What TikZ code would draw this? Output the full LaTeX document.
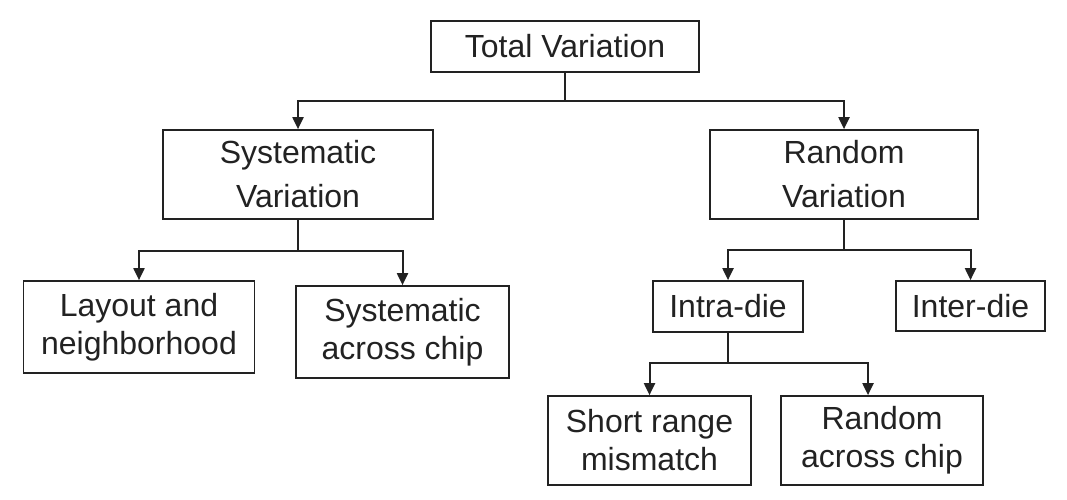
\documentclass[tikz,border=0pt]{standalone}
\usepackage{fontspec}
\setsansfont{Liberation Sans}
\usepackage{xcolor}
\usetikzlibrary{arrows.meta}
\definecolor{ink}{HTML}{222222}

\begin{document}
\begin{tikzpicture}[
  x=1pt, y=-1pt,
  every node/.style={font=\sffamily\fontsize{32}{38}\selectfont, text=ink},
  box/.style={draw=ink, line width=1.7pt, align=center, inner sep=0pt},
  arrow/.style={-{Triangle[width=11pt,length=12pt]}, draw=ink, line width=2pt},
  link/.style={draw=ink, line width=2pt},
]

\useasboundingbox (0,0) rectangle (1067,500);

\node[box, minimum width=268pt, minimum height=51pt] (total) at (565,46.5) {Total Variation};

\node[box, minimum width=270pt, minimum height=89pt] (sys) at (298,174.5) {Systematic\\[6pt]Variation};
\node[box, minimum width=268pt, minimum height=89pt] (rnd) at (844,174.5) {Random\\[6pt]Variation};

\node[box, minimum width=231pt, minimum height=92pt] (layout) at (139,327) {Layout and\\neighborhood};
\node[box, minimum width=213pt, minimum height=92pt] (sysacross) at (402.5,332) {Systematic\\across chip};

\node[box, minimum width=150pt, minimum height=51pt] (intra) at (728,306.5) {Intra-die};
\node[box, minimum width=149pt, minimum height=50pt] (inter) at (970.5,306) {Inter-die};

\node[box, minimum width=203pt, minimum height=89pt] (short) at (649.5,440.5) {Short range\\mismatch};
\node[box, minimum width=202pt, minimum height=89pt] (randacross) at (882,440.5) {Random\\across chip};

% branch points
\coordinate (j1) at (565,101);
\coordinate (j2) at (298,251);
\coordinate (j3) at (844,250);
\coordinate (j4) at (728,363);

\draw[link] (total.south) -- (j1);
\draw[arrow] (j1) -| (sys.north);
\draw[arrow] (j1) -| (rnd.north);

\draw[link] (sys.south) -- (j2);
\draw[arrow] (j2) -| (layout.north);
\draw[arrow] (j2) -| (sysacross.north);

\draw[link] (rnd.south) -- (j3);
\draw[arrow] (j3) -| (intra.north);
\draw[arrow] (j3) -| (inter.north);

\draw[link] (intra.south) -- (j4);
\draw[arrow] (j4) -| (short.north);
\draw[arrow] (j4) -| ([xshift=-14pt]randacross.north);

\end{tikzpicture}
\end{document}
